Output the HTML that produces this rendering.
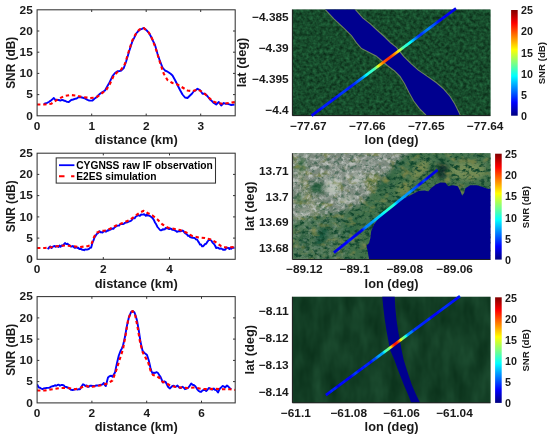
<!DOCTYPE html>
<html lang="en"><head><meta charset="utf-8"><title>CYGNSS raw IF observation vs E2ES simulation</title>
<style>html,body{margin:0;padding:0;background:#fff;}svg{display:block;}text{font-family:"Liberation Sans", "DejaVu Sans", sans-serif;font-weight:bold;fill:#1a1a1a;}.tk{font-size:11.2px;}.lb{font-size:11.9px;}.ck{font-size:10.1px;}.cl{font-size:9.9px;}.lg{font-size:10px;fill:#000;}</style></head><body>
<svg width="550" height="439" viewBox="0 0 550 439">
<defs>
<linearGradient id="jet" x1="0" y1="0" x2="0" y2="1"><stop offset="0.0000" stop-color="#800000"/><stop offset="0.0312" stop-color="#9f0000"/><stop offset="0.0625" stop-color="#bf0000"/><stop offset="0.0938" stop-color="#df0000"/><stop offset="0.1250" stop-color="#ff0000"/><stop offset="0.1562" stop-color="#ff2000"/><stop offset="0.1875" stop-color="#ff4000"/><stop offset="0.2188" stop-color="#ff6000"/><stop offset="0.2500" stop-color="#ff8000"/><stop offset="0.2812" stop-color="#ff9f00"/><stop offset="0.3125" stop-color="#ffbf00"/><stop offset="0.3438" stop-color="#ffdf00"/><stop offset="0.3750" stop-color="#ffff00"/><stop offset="0.4062" stop-color="#dfff20"/><stop offset="0.4375" stop-color="#bfff40"/><stop offset="0.4688" stop-color="#9fff60"/><stop offset="0.5000" stop-color="#80ff80"/><stop offset="0.5312" stop-color="#60ff9f"/><stop offset="0.5625" stop-color="#40ffbf"/><stop offset="0.5938" stop-color="#20ffdf"/><stop offset="0.6250" stop-color="#00ffff"/><stop offset="0.6562" stop-color="#00dfff"/><stop offset="0.6875" stop-color="#00bfff"/><stop offset="0.7188" stop-color="#009fff"/><stop offset="0.7500" stop-color="#0080ff"/><stop offset="0.7812" stop-color="#0060ff"/><stop offset="0.8125" stop-color="#0040ff"/><stop offset="0.8438" stop-color="#0020ff"/><stop offset="0.8750" stop-color="#0000ff"/><stop offset="0.9062" stop-color="#0000df"/><stop offset="0.9375" stop-color="#0000bf"/><stop offset="0.9688" stop-color="#00009f"/><stop offset="1.0000" stop-color="#000080"/></linearGradient>
<filter id="forest" x="0" y="0" width="100%" height="100%" color-interpolation-filters="sRGB"><feTurbulence type="fractalNoise" baseFrequency="0.3" numOctaves="2" seed="7" result="n"/><feColorMatrix in="n" type="matrix" values="0.14 0 0 0 0.02  0.36 0 0 0 0.115  0.22 0 0 0 0.06  0 0 0 0 1"/><feGaussianBlur stdDeviation="0.55"/></filter>
<filter id="forest3" x="0" y="0" width="100%" height="100%" color-interpolation-filters="sRGB"><feTurbulence type="fractalNoise" baseFrequency="0.07 0.03" numOctaves="3" seed="3" result="n"/><feColorMatrix in="n" type="matrix" values="0.1 0 0 0 0.025  0.15 0 0 0 0.17  0.12 0 0 0 0.085  0 0 0 0 1"/></filter>
<filter id="blur3" x="-5%" y="-5%" width="110%" height="110%"><feGaussianBlur stdDeviation="2.2"/></filter>
<filter id="noise2w" x="0" y="0" width="100%" height="100%" color-interpolation-filters="sRGB"><feTurbulence type="fractalNoise" baseFrequency="0.24" numOctaves="4" seed="11" result="n"/><feColorMatrix in="n" type="matrix" values="0 0 0 0 0.73  0 0 0 0 0.75  0 0 0 0 0.73  2.8 0 0 0 -1.22"/></filter>
<filter id="noise2o" x="0" y="0" width="100%" height="100%" color-interpolation-filters="sRGB"><feTurbulence type="fractalNoise" baseFrequency="0.09 0.14" numOctaves="3" seed="5" result="n"/><feColorMatrix in="n" type="matrix" values="0 0 0 0 0.48  0 0 0 0 0.52  0 0 0 0 0.28  0 0 3.2 0 -1.78"/></filter>
<filter id="noise2d" x="0" y="0" width="100%" height="100%" color-interpolation-filters="sRGB"><feTurbulence type="fractalNoise" baseFrequency="0.2 0.26" numOctaves="4" seed="23" result="n"/><feColorMatrix in="n" type="matrix" values="0 0 0 0 0.06  0 0 0 0 0.27  0 0 0 0 0.17  0 -4.0 0 0 2.1"/></filter>
</defs>
<rect width="550" height="439" fill="#fff"/>
<g>
<clipPath id="cp0"><rect x="37.1" y="9.8" width="198.1" height="106.0"/></clipPath>
<g clip-path="url(#cp0)" fill="none" stroke-linejoin="round">
<path d="M43.8 103.8 L45.4 103.3 L47.1 102.8 L48.8 102.0 L50.4 100.9 L52.1 99.6 L53.8 98.0 L55.0 99.5 L56.9 100.0 L58.8 100.0 L60.4 100.6 L62.1 99.9 L63.8 100.5 L65.4 101.0 L67.1 101.9 L68.8 102.0 L71.2 100.0 L73.1 99.5 L75.0 98.8 L76.7 98.5 L78.3 97.3 L80.0 97.0 L81.9 97.5 L83.8 98.0 L85.4 98.6 L87.1 99.7 L88.8 100.5 L90.6 100.6 L92.5 100.5 L94.4 98.7 L96.2 97.5 L98.1 95.4 L100.0 93.8 L102.5 92.0 L105.0 90.5 L106.9 87.0 L108.8 83.8 L110.6 80.2 L112.5 76.2 L115.0 73.0 L117.5 71.2 L119.4 71.1 L121.2 70.5 L123.8 68.0 L126.2 61.2 L128.8 52.5 L130.6 46.6 L132.5 41.0 L134.4 37.4 L136.2 33.5 L138.1 31.3 L140.0 29.5 L141.9 28.8 L143.8 28.0 L145.6 29.4 L147.5 31.2 L149.4 33.8 L151.2 37.0 L153.1 41.2 L155.0 45.0 L157.5 53.8 L160.0 61.2 L162.5 67.5 L165.0 70.5 L166.9 71.3 L168.8 72.5 L170.6 73.8 L172.5 75.5 L175.0 80.0 L177.5 85.0 L180.0 90.0 L182.5 94.5 L185.0 97.5 L187.5 98.0 L190.0 95.5 L191.9 93.7 L193.8 91.2 L195.6 90.3 L197.5 88.8 L200.0 90.0 L202.5 93.8 L205.0 93.8 L207.5 96.2 L210.0 99.5 L211.9 101.1 L213.8 103.0 L216.2 104.5 L218.8 102.0 L221.2 105.5 L223.8 103.0 L225.6 103.8 L227.5 103.8 L229.4 104.4 L231.2 105.0 L232.9 104.9 L234.5 104.5" stroke="#0000ff" stroke-width="1.9"/>
<path d="M37.0 104.5 L45.0 104.5 L51.2 103.8 L57.5 99.5 L63.8 96.2 L70.0 95.0 L76.2 95.5 L82.5 97.0 L90.0 98.0 L96.2 97.5 L101.2 93.8 L106.2 90.0 L110.0 83.8 L113.8 75.5 L117.5 72.0 L121.2 69.5 L125.0 63.8 L128.8 51.2 L132.5 40.0 L136.2 33.0 L139.5 29.5 L143.8 28.0 L148.8 32.5 L152.5 39.5 L156.2 50.0 L160.0 62.5 L163.8 73.8 L167.5 80.0 L172.5 83.0 L177.5 84.5 L182.5 87.5 L187.5 90.5 L192.5 91.2 L197.5 89.5 L202.5 92.0 L207.5 96.2 L212.5 101.2 L217.5 103.0 L222.5 103.8 L228.8 103.0 L235.5 102.0" stroke="#ff0000" stroke-width="2.1" stroke-dasharray="3.4 2.8"/>
</g>
<rect x="37.1" y="9.8" width="198.1" height="106.0" fill="none" stroke="#333333" stroke-width="1.05"/>
<path d="M37.1 94.6h2.2M235.2 94.6h-2.2M37.1 73.4h2.2M235.2 73.4h-2.2M37.1 52.2h2.2M235.2 52.2h-2.2M37.1 31.0h2.2M235.2 31.0h-2.2M91.7 115.8v-2.2M91.7 9.8v2.2M146.2 115.8v-2.2M146.2 9.8v2.2M200.7 115.8v-2.2M200.7 9.8v2.2" stroke="#333333" stroke-width="1" fill="none"/>
<text class="tk" x="32.8" y="119.5" text-anchor="end" textLength="6.6" lengthAdjust="spacingAndGlyphs">0</text>
<text class="tk" x="32.8" y="98.3" text-anchor="end" textLength="6.6" lengthAdjust="spacingAndGlyphs">5</text>
<text class="tk" x="32.8" y="77.1" text-anchor="end" textLength="13.2" lengthAdjust="spacingAndGlyphs">10</text>
<text class="tk" x="32.8" y="55.9" text-anchor="end" textLength="13.2" lengthAdjust="spacingAndGlyphs">15</text>
<text class="tk" x="32.8" y="34.7" text-anchor="end" textLength="13.2" lengthAdjust="spacingAndGlyphs">20</text>
<text class="tk" x="32.8" y="13.5" text-anchor="end" textLength="13.2" lengthAdjust="spacingAndGlyphs">25</text>
<text class="tk" x="37.1" y="129.8" text-anchor="middle" textLength="6.6" lengthAdjust="spacingAndGlyphs">0</text>
<text class="tk" x="91.7" y="129.8" text-anchor="middle" textLength="6.6" lengthAdjust="spacingAndGlyphs">1</text>
<text class="tk" x="146.2" y="129.8" text-anchor="middle" textLength="6.6" lengthAdjust="spacingAndGlyphs">2</text>
<text class="tk" x="200.7" y="129.8" text-anchor="middle" textLength="6.6" lengthAdjust="spacingAndGlyphs">3</text>
<text class="lb" x="136.2" y="144.2" text-anchor="middle" textLength="83" lengthAdjust="spacingAndGlyphs">distance (km)</text>
<text class="lb" transform="translate(15.2 62.8) rotate(-90)" text-anchor="middle" textLength="52" lengthAdjust="spacingAndGlyphs">SNR (dB)</text>
</g>
<g>
<clipPath id="cp1"><rect x="37.1" y="153.2" width="198.1" height="106.1"/></clipPath>
<g clip-path="url(#cp1)" fill="none" stroke-linejoin="round">
<path d="M47.5 248.0 L48.5 248.6 L49.5 246.9 L50.5 246.5 L51.5 248.1 L52.5 247.0 L53.5 246.3 L54.5 246.0 L55.5 246.8 L56.5 246.1 L57.5 246.2 L58.5 246.9 L59.5 245.5 L60.5 246.8 L61.5 245.5 L62.5 245.8 L63.8 244.5 L65.0 243.0 L66.2 244.1 L67.5 243.8 L68.8 244.9 L70.0 245.5 L70.9 246.6 L71.9 246.6 L72.8 245.9 L73.8 247.0 L74.7 247.9 L75.6 247.7 L76.6 247.4 L77.5 248.0 L78.4 247.7 L79.4 249.1 L80.3 248.9 L81.2 249.0 L82.2 249.9 L83.1 249.8 L84.1 250.2 L85.0 249.5 L85.9 249.5 L86.9 249.6 L87.8 249.3 L88.8 249.0 L90.0 247.9 L91.2 247.5 L92.5 242.5 L93.5 240.4 L94.5 237.5 L95.8 235.4 L97.0 233.8 L98.2 232.9 L99.5 231.2 L100.5 232.4 L101.5 232.3 L102.5 232.5 L103.8 231.3 L105.0 231.2 L105.9 231.7 L106.9 231.2 L107.8 230.1 L108.8 230.5 L109.7 229.3 L110.6 229.7 L111.6 228.4 L112.5 228.8 L113.4 228.8 L114.4 227.5 L115.3 226.9 L116.2 226.2 L117.2 225.7 L118.1 225.6 L119.1 225.6 L120.0 224.5 L120.9 224.0 L121.9 223.9 L122.8 224.1 L123.8 223.8 L125.0 222.8 L126.2 222.5 L127.2 222.4 L128.1 221.9 L129.1 221.4 L130.0 221.2 L130.9 220.8 L131.9 219.9 L132.8 218.5 L133.8 218.4 L134.7 218.4 L135.6 216.7 L136.6 216.1 L137.5 215.5 L138.4 215.1 L139.4 215.8 L140.3 215.5 L141.2 214.5 L142.2 214.6 L143.1 214.6 L144.1 214.1 L145.0 215.0 L145.9 215.9 L146.9 214.6 L147.8 215.5 L148.8 215.5 L149.7 215.9 L150.6 216.5 L151.6 217.2 L152.5 218.0 L153.8 219.9 L155.0 222.5 L156.2 224.3 L157.5 227.0 L158.8 228.5 L160.0 230.0 L160.9 230.4 L161.9 230.0 L162.8 229.1 L163.8 229.5 L164.7 229.4 L165.6 228.0 L166.6 228.2 L167.5 228.0 L168.4 228.8 L169.4 229.1 L170.3 228.5 L171.2 228.8 L172.2 229.7 L173.1 229.6 L174.1 230.1 L175.0 230.5 L175.9 230.8 L176.9 231.8 L177.8 231.5 L178.8 231.2 L179.7 231.0 L180.6 231.3 L181.6 230.9 L182.5 230.5 L183.4 231.1 L184.4 232.5 L185.3 233.4 L186.2 233.8 L187.2 234.7 L188.1 236.0 L189.1 235.5 L190.0 237.0 L190.9 237.3 L191.9 237.7 L192.8 237.5 L193.8 238.0 L194.8 238.0 L195.9 239.3 L197.0 239.5 L198.0 241.1 L199.0 242.6 L200.0 244.5 L201.0 244.4 L202.0 246.4 L203.0 246.2 L204.1 245.2 L205.2 244.0 L206.2 243.8 L207.5 241.6 L208.8 240.0 L210.0 239.8 L211.2 240.5 L212.5 242.6 L213.8 243.8 L215.0 245.5 L216.2 248.0 L217.2 247.8 L218.1 247.6 L219.1 248.5 L220.0 248.8 L220.9 248.4 L221.9 248.8 L222.8 249.7 L223.8 249.5 L224.7 249.8 L225.6 249.3 L226.6 247.6 L227.5 248.0 L228.4 248.0 L229.4 249.0 L230.3 247.7 L231.2 248.8 L232.3 247.8 L233.4 247.9 L234.5 247.5" stroke="#0000ff" stroke-width="1.9"/>
<path d="M37.0 248.0 L45.0 248.0 L52.5 247.0 L60.0 245.8 L65.0 245.5 L72.5 246.2 L80.0 247.0 L87.5 246.2 L91.2 245.0 L93.8 237.5 L96.2 233.0 L100.0 231.2 L105.0 230.5 L110.0 228.8 L116.2 225.5 L122.5 223.0 L128.8 220.5 L133.8 217.0 L140.0 212.5 L143.8 210.8 L147.5 213.0 L152.5 215.5 L157.5 219.5 L162.5 224.5 L167.5 227.5 L173.8 228.8 L180.0 230.0 L186.2 232.5 L192.5 236.2 L198.8 237.5 L205.0 238.0 L211.2 239.5 L216.2 242.5 L221.2 246.2 L226.2 247.5 L235.5 247.0" stroke="#ff0000" stroke-width="2.1" stroke-dasharray="3.4 2.8"/>
</g>
<rect x="37.1" y="153.2" width="198.1" height="106.1" fill="none" stroke="#333333" stroke-width="1.05"/>
<path d="M37.1 238.1h2.2M235.2 238.1h-2.2M37.1 216.9h2.2M235.2 216.9h-2.2M37.1 195.6h2.2M235.2 195.6h-2.2M37.1 174.4h2.2M235.2 174.4h-2.2M103.3 259.3v-2.2M103.3 153.2v2.2M169.5 259.3v-2.2M169.5 153.2v2.2" stroke="#333333" stroke-width="1" fill="none"/>
<text class="tk" x="32.8" y="263.0" text-anchor="end" textLength="6.6" lengthAdjust="spacingAndGlyphs">0</text>
<text class="tk" x="32.8" y="241.8" text-anchor="end" textLength="6.6" lengthAdjust="spacingAndGlyphs">5</text>
<text class="tk" x="32.8" y="220.6" text-anchor="end" textLength="13.2" lengthAdjust="spacingAndGlyphs">10</text>
<text class="tk" x="32.8" y="199.3" text-anchor="end" textLength="13.2" lengthAdjust="spacingAndGlyphs">15</text>
<text class="tk" x="32.8" y="178.1" text-anchor="end" textLength="13.2" lengthAdjust="spacingAndGlyphs">20</text>
<text class="tk" x="32.8" y="156.9" text-anchor="end" textLength="13.2" lengthAdjust="spacingAndGlyphs">25</text>
<text class="tk" x="37.1" y="273.3" text-anchor="middle" textLength="6.6" lengthAdjust="spacingAndGlyphs">0</text>
<text class="tk" x="103.3" y="273.3" text-anchor="middle" textLength="6.6" lengthAdjust="spacingAndGlyphs">2</text>
<text class="tk" x="169.5" y="273.3" text-anchor="middle" textLength="6.6" lengthAdjust="spacingAndGlyphs">4</text>
<text class="lb" x="136.2" y="287.7" text-anchor="middle" textLength="83" lengthAdjust="spacingAndGlyphs">distance (km)</text>
<text class="lb" transform="translate(15.2 206.2) rotate(-90)" text-anchor="middle" textLength="52" lengthAdjust="spacingAndGlyphs">SNR (dB)</text>
</g>
<g>
<clipPath id="cp2"><rect x="37.1" y="296.6" width="198.1" height="106.3"/></clipPath>
<g clip-path="url(#cp2)" fill="none" stroke-linejoin="round">
<path d="M37.0 384.2 L38.8 387.5 L40.0 387.7 L41.2 388.5 L42.5 389.2 L43.8 388.4 L45.0 388.3 L46.2 388.0 L47.5 387.9 L48.8 387.9 L50.0 387.5 L51.2 386.6 L52.5 386.3 L53.8 386.0 L55.0 385.2 L56.2 385.8 L57.5 385.0 L58.8 384.6 L60.0 385.7 L61.2 385.0 L62.5 385.0 L63.8 385.4 L65.0 386.8 L66.2 387.0 L67.5 387.5 L68.8 388.0 L70.0 389.0 L71.2 389.9 L72.5 390.0 L73.8 389.8 L75.0 389.2 L76.2 389.2 L77.5 389.6 L78.8 389.2 L80.0 389.2 L81.5 386.5 L83.0 384.2 L84.2 384.9 L85.5 386.0 L86.6 385.4 L87.7 386.8 L88.8 386.8 L90.0 385.8 L91.2 385.7 L92.5 386.0 L93.8 386.0 L95.0 385.9 L96.2 385.5 L97.5 385.5 L98.8 385.4 L100.0 385.0 L101.2 384.8 L102.5 384.3 L103.8 383.0 L104.8 385.0 L105.8 386.0 L106.9 381.7 L108.0 377.5 L109.0 376.6 L110.0 376.0 L111.2 375.8 L112.5 376.8 L113.8 374.6 L115.0 372.5 L116.0 367.6 L117.0 363.0 L118.8 355.5 L120.5 351.0 L121.8 348.6 L123.0 345.5 L124.0 341.3 L125.0 336.8 L126.0 331.0 L127.0 325.5 L128.0 321.2 L129.0 316.8 L130.1 314.4 L131.2 311.8 L132.8 311.0 L134.5 312.5 L135.8 316.2 L137.0 320.5 L138.8 330.5 L140.5 341.8 L141.5 346.3 L142.5 350.5 L143.5 352.0 L144.5 353.0 L145.8 354.0 L147.0 355.0 L148.8 360.5 L150.5 368.0 L151.5 371.1 L152.5 373.5 L153.8 372.6 L155.0 373.0 L156.5 372.2 L158.0 373.0 L159.2 375.1 L160.5 376.8 L161.8 379.8 L163.0 382.5 L164.2 381.3 L165.5 381.8 L166.8 384.3 L168.0 386.8 L169.0 387.7 L170.0 388.5 L171.2 387.1 L172.5 386.0 L173.8 385.8 L175.0 386.8 L176.2 386.6 L177.5 385.5 L178.8 387.2 L180.0 388.0 L181.2 387.5 L182.5 386.8 L183.8 387.7 L185.0 389.2 L186.5 388.7 L188.0 388.0 L189.1 386.7 L190.2 385.0 L191.2 383.5 L192.5 384.7 L193.8 385.0 L195.0 385.9 L196.2 387.5 L197.5 389.7 L198.8 391.0 L200.0 391.7 L201.2 391.8 L202.5 390.4 L203.8 390.0 L205.0 389.9 L206.2 391.0 L207.5 389.8 L208.8 388.0 L210.0 388.4 L211.2 389.2 L212.5 389.5 L213.8 388.5 L215.0 389.8 L216.2 390.0 L218.0 392.5 L219.0 390.3 L220.0 388.5 L221.2 387.5 L222.5 386.0 L223.8 386.4 L225.0 387.5 L226.0 386.5 L227.0 385.5 L228.2 386.4 L229.5 388.0 L231.2 389.2" stroke="#0000ff" stroke-width="1.9"/>
<path d="M37.0 390.5 L45.0 390.5 L52.5 389.2 L60.0 388.0 L67.5 388.0 L75.0 389.2 L80.0 388.0 L85.0 386.0 L92.5 386.8 L100.0 385.5 L107.5 383.5 L112.5 380.5 L116.2 370.5 L120.0 358.5 L123.0 349.2 L125.5 335.5 L128.0 320.5 L130.5 313.0 L132.5 311.0 L135.0 314.2 L137.5 326.8 L140.0 341.8 L142.5 351.8 L145.0 356.8 L148.0 361.8 L150.5 370.5 L153.0 375.0 L156.2 376.0 L159.5 378.0 L162.5 381.8 L166.2 383.0 L170.0 385.5 L175.0 386.8 L180.0 387.5 L187.5 388.0 L195.0 387.5 L201.2 388.8 L207.5 389.2 L215.0 388.8 L222.5 389.2 L230.0 389.2 L235.5 390.0" stroke="#ff0000" stroke-width="2.1" stroke-dasharray="3.4 2.8"/>
</g>
<rect x="37.1" y="296.6" width="198.1" height="106.3" fill="none" stroke="#333333" stroke-width="1.05"/>
<path d="M37.1 381.6h2.2M235.2 381.6h-2.2M37.1 360.4h2.2M235.2 360.4h-2.2M37.1 339.1h2.2M235.2 339.1h-2.2M37.1 317.9h2.2M235.2 317.9h-2.2M91.9 402.9v-2.2M91.9 296.6v2.2M146.7 402.9v-2.2M146.7 296.6v2.2M201.5 402.9v-2.2M201.5 296.6v2.2" stroke="#333333" stroke-width="1" fill="none"/>
<text class="tk" x="32.8" y="406.6" text-anchor="end" textLength="6.6" lengthAdjust="spacingAndGlyphs">0</text>
<text class="tk" x="32.8" y="385.3" text-anchor="end" textLength="6.6" lengthAdjust="spacingAndGlyphs">5</text>
<text class="tk" x="32.8" y="364.1" text-anchor="end" textLength="13.2" lengthAdjust="spacingAndGlyphs">10</text>
<text class="tk" x="32.8" y="342.8" text-anchor="end" textLength="13.2" lengthAdjust="spacingAndGlyphs">15</text>
<text class="tk" x="32.8" y="321.6" text-anchor="end" textLength="13.2" lengthAdjust="spacingAndGlyphs">20</text>
<text class="tk" x="32.8" y="300.3" text-anchor="end" textLength="13.2" lengthAdjust="spacingAndGlyphs">25</text>
<text class="tk" x="37.1" y="416.9" text-anchor="middle" textLength="6.6" lengthAdjust="spacingAndGlyphs">0</text>
<text class="tk" x="91.9" y="416.9" text-anchor="middle" textLength="6.6" lengthAdjust="spacingAndGlyphs">2</text>
<text class="tk" x="146.7" y="416.9" text-anchor="middle" textLength="6.6" lengthAdjust="spacingAndGlyphs">4</text>
<text class="tk" x="201.5" y="416.9" text-anchor="middle" textLength="6.6" lengthAdjust="spacingAndGlyphs">6</text>
<text class="lb" x="136.2" y="431.3" text-anchor="middle" textLength="83" lengthAdjust="spacingAndGlyphs">distance (km)</text>
<text class="lb" transform="translate(15.2 349.8) rotate(-90)" text-anchor="middle" textLength="52" lengthAdjust="spacingAndGlyphs">SNR (dB)</text>
</g>
<g>
<rect x="56.2" y="157.9" width="159.3" height="25.2" fill="#fff" stroke="#333333" stroke-width="1.05"/>
<path d="M59 165.2H74.4" stroke="#0000ff" stroke-width="1.8"/>
<path d="M59 176.3H64.5M71.1 176.3H74.4" stroke="#ff0000" stroke-width="2"/>
<text class="lg" x="76.2" y="168.9" textLength="136.6" lengthAdjust="spacingAndGlyphs">CYGNSS raw IF observation</text>
<text class="lg" x="76.2" y="180.4" textLength="80.3" lengthAdjust="spacingAndGlyphs">E2ES simulation</text>
</g>
<g>
<clipPath id="cm0"><rect x="292.4" y="9.5" width="198.1" height="106.1"/></clipPath>
<g clip-path="url(#cm0)">
<rect x="292.4" y="9.5" width="198.1" height="106.1" fill="#14522f"/>
<rect x="292.4" y="9.5" width="198.1" height="106.1" filter="url(#forest)"/>
<path d="M324.2 8.5 L333.9 18.8 L344.1 28.3 L351.4 35.5 L356.5 42.8 L361.5 48.6 L368.8 52.3 L376.1 55.9 L381.5 60.5 L387.3 65.5 L394.6 71.0 L400.0 76.4 L404.6 83.7 L409.1 92.8 L413.7 101.0 L419.2 108.3 L425.5 114.7 L427.0 117.0 L461.3 117.0 L460.1 114.7 L458.3 111.0 L454.7 103.8 L450.1 96.5 L443.8 89.2 L436.5 82.8 L427.4 76.4 L418.3 70.1 L411.0 63.7 L403.7 56.4 L396.4 47.3 L390.6 42.8 L384.8 37.0 L377.5 30.5 L370.3 23.9 L363.0 18.1 L354.4 8.5Z" fill="#00008f" stroke="#8a9c66" stroke-opacity="0.75" stroke-width="1.1"/>
</g>
<path d="M292.4 9.5V115.6H490.5" stroke="#1a1a1a" stroke-width="1" fill="none"/>
<linearGradient id="tg0" gradientUnits="userSpaceOnUse" x1="311.6" y1="115.6" x2="456.0" y2="8.3"><stop offset="0.033" stop-color="#0000f3"/><stop offset="0.059" stop-color="#0005ff"/><stop offset="0.084" stop-color="#002cff"/><stop offset="0.090" stop-color="#001dff"/><stop offset="0.109" stop-color="#0019ff"/><stop offset="0.134" stop-color="#0014ff"/><stop offset="0.159" stop-color="#0005ff"/><stop offset="0.172" stop-color="#0019ff"/><stop offset="0.191" stop-color="#0025ff"/><stop offset="0.216" stop-color="#0035ff"/><stop offset="0.235" stop-color="#002cff"/><stop offset="0.260" stop-color="#0014ff"/><stop offset="0.279" stop-color="#0014ff"/><stop offset="0.298" stop-color="#0031ff"/><stop offset="0.317" stop-color="#0055ff"/><stop offset="0.329" stop-color="#0066ff"/><stop offset="0.342" stop-color="#0074ff"/><stop offset="0.361" stop-color="#00b5ff"/><stop offset="0.379" stop-color="#00fdff"/><stop offset="0.392" stop-color="#1dffe2"/><stop offset="0.405" stop-color="#2effd1"/><stop offset="0.424" stop-color="#35ffca"/><stop offset="0.436" stop-color="#4dffb2"/><stop offset="0.449" stop-color="#8eff71"/><stop offset="0.461" stop-color="#e3ff1c"/><stop offset="0.480" stop-color="#ffad00"/><stop offset="0.499" stop-color="#ff6500"/><stop offset="0.518" stop-color="#ff3e00"/><stop offset="0.537" stop-color="#ff3000"/><stop offset="0.556" stop-color="#ff4f00"/><stop offset="0.574" stop-color="#ff8600"/><stop offset="0.593" stop-color="#ffd300"/><stop offset="0.606" stop-color="#d7ff28"/><stop offset="0.619" stop-color="#8eff71"/><stop offset="0.631" stop-color="#52ffad"/><stop offset="0.644" stop-color="#35ffca"/><stop offset="0.663" stop-color="#22ffdd"/><stop offset="0.681" stop-color="#05fffa"/><stop offset="0.694" stop-color="#00d9ff"/><stop offset="0.707" stop-color="#00a9ff"/><stop offset="0.719" stop-color="#0079ff"/><stop offset="0.732" stop-color="#004dff"/><stop offset="0.744" stop-color="#0031ff"/><stop offset="0.757" stop-color="#002cff"/><stop offset="0.770" stop-color="#0044ff"/><stop offset="0.788" stop-color="#006dff"/><stop offset="0.807" stop-color="#0085ff"/><stop offset="0.820" stop-color="#0079ff"/><stop offset="0.832" stop-color="#0055ff"/><stop offset="0.845" stop-color="#0055ff"/><stop offset="0.858" stop-color="#003dff"/><stop offset="0.870" stop-color="#001dff"/><stop offset="0.889" stop-color="#0000fb"/><stop offset="0.902" stop-color="#0000ec"/><stop offset="0.914" stop-color="#0005ff"/><stop offset="0.927" stop-color="#0000e3"/><stop offset="0.939" stop-color="#0000fb"/><stop offset="0.958" stop-color="#0000f3"/><stop offset="0.977" stop-color="#0000e7"/><stop offset="0.993" stop-color="#0000ec"/></linearGradient>
<path d="M311.6 115.6L456.0 8.3" stroke="url(#tg0)" stroke-width="2.7" fill="none"/>
</g>
<g>
<clipPath id="cm1"><rect x="292.4" y="153.2" width="198.1" height="106.3"/></clipPath>
<g clip-path="url(#cm1)">
<rect x="292.4" y="153.2" width="198.1" height="106.3" fill="#43704c"/>
<g filter="url(#blur3)">
<path d="M285 148H418L400 158L380 180L362 204L340 212L318 214L285 222Z" fill="#7b897e"/>
<path d="M285 222L318 214L340 212L345 262H285Z" fill="#4c7552"/>
<path d="M418 148L400 158L380 180L362 204L345 230L350 262H380L420 200L495 190V148Z" fill="#41704a"/>
<ellipse cx="352" cy="170" rx="30" ry="14" fill="#838f85" transform="rotate(-25 352 170)"/>
<ellipse cx="372" cy="180" rx="9" ry="6" fill="#78884d" transform="rotate(-40 372 180)"/>
<ellipse cx="420" cy="170" rx="12" ry="5" fill="#748a4f" transform="rotate(-50 420 170)"/>
<ellipse cx="468" cy="171" rx="18" ry="9" fill="#728c55"/>
<ellipse cx="404" cy="188" rx="9" ry="4" fill="#6f884c" transform="rotate(-35 404 188)"/>
<ellipse cx="317" cy="188" rx="9" ry="7" fill="#2a6040"/>
<ellipse cx="322" cy="236" rx="6" ry="13" fill="#1f5a3f" transform="rotate(25 322 236)"/>
<ellipse cx="304" cy="240" rx="5" ry="8" fill="#2d6242"/>
<ellipse cx="350" cy="228" rx="6" ry="12" fill="#2f6644" transform="rotate(30 350 228)"/>
<ellipse cx="385" cy="182" rx="10" ry="5" fill="#2a6040" transform="rotate(-45 385 182)"/>
<ellipse cx="442" cy="171" rx="6.5" ry="8.5" fill="#0a2a26"/>
<ellipse cx="398" cy="166" rx="8" ry="4" fill="#33664a" transform="rotate(-30 398 166)"/>
<ellipse cx="301" cy="166" rx="6" ry="9" fill="#4f7a55"/>
<ellipse cx="300" cy="200" rx="5" ry="8" fill="#527a55"/>
<ellipse cx="322" cy="206" rx="7" ry="4" fill="#5a7f5a"/>
<ellipse cx="333" cy="186" rx="8" ry="9" fill="#b9c2b6"/>
<ellipse cx="357" cy="180" rx="6" ry="5" fill="#aab5a7"/>
<ellipse cx="345" cy="200" rx="8" ry="4" fill="#a5b0a1" transform="rotate(-25 345 200)"/>
<ellipse cx="303" cy="214" rx="7" ry="3" fill="#a9b2a0" transform="rotate(-20 303 214)"/>
<path d="M296 172L301 170L318 212L313 214Z" fill="#8f9a78"/>
</g>
<mask id="urb" maskUnits="userSpaceOnUse" x="285" y="145" width="215" height="120"><rect x="285" y="145" width="215" height="120" fill="#181818"/><g filter="url(#blur3)"><path d="M285 226L318 216L345 214L350 265H285Z" fill="#4a4a4a"/><path d="M285 145H416L399 158L380 180L362 203L340 211L318 215L285 223Z" fill="#fff"/><ellipse cx="317" cy="188" rx="9" ry="7" fill="#333"/><ellipse cx="301" cy="166" rx="6" ry="9" fill="#555"/><ellipse cx="300" cy="200" rx="5" ry="8" fill="#555"/><ellipse cx="322" cy="236" rx="6" ry="13" fill="#222" transform="rotate(25 322 236)"/></g></mask>
<mask id="hil" maskUnits="userSpaceOnUse" x="285" y="145" width="215" height="120"><rect x="285" y="145" width="215" height="120" fill="#fff"/><g filter="url(#blur3)"><path d="M285 145H416L399 158L380 180L362 203L340 211L318 215L285 223Z" fill="#707070"/></g></mask>
<g mask="url(#hil)"><rect x="292.4" y="153.2" width="198.1" height="106.3" filter="url(#noise2d)"/></g>
<rect x="292.4" y="153.2" width="198.1" height="106.3" filter="url(#noise2o)"/>
<g mask="url(#urb)"><rect x="292.4" y="153.2" width="198.1" height="106.3" filter="url(#noise2w)"/></g>
<path d="M390.0 207.3 L397.6 201.5 L405.3 197.7 L411.0 194.9 L418.6 191.0 L424.4 190.5 L428.2 191.6 L431.0 188.2 L435.8 184.4 L440.6 182.5 L445.4 182.8 L448.2 186.3 L453.0 185.3 L457.8 186.3 L460.3 191.0 L462.2 195.8 L464.1 193.0 L465.4 188.2 L470.2 185.3 L476.9 185.3 L483.5 187.2 L488.3 189.1 L492.0 188.0 L492.0 262.0 L369.5 262.0 L367.8 252.0 L366.5 245.7 L369.1 243.1 L370.4 238.0 L371.1 231.6 L374.2 224.0 L379.3 217.6 L385.7 211.2Z" fill="#00008f"/>
</g>
<linearGradient id="tg1" gradientUnits="userSpaceOnUse" x1="333.9" y1="252.6" x2="437.6" y2="170.0"><stop offset="0.052" stop-color="#0000ec"/><stop offset="0.078" stop-color="#0000f6"/><stop offset="0.103" stop-color="#0000fd"/><stop offset="0.128" stop-color="#0003ff"/><stop offset="0.140" stop-color="#001dff"/><stop offset="0.153" stop-color="#0016ff"/><stop offset="0.166" stop-color="#0005ff"/><stop offset="0.184" stop-color="#0000f6"/><stop offset="0.203" stop-color="#0000ec"/><stop offset="0.222" stop-color="#0000e3"/><stop offset="0.241" stop-color="#0000de"/><stop offset="0.260" stop-color="#0000e3"/><stop offset="0.273" stop-color="#0000f1"/><stop offset="0.279" stop-color="#0022ff"/><stop offset="0.289" stop-color="#0052ff"/><stop offset="0.301" stop-color="#0076ff"/><stop offset="0.314" stop-color="#008eff"/><stop offset="0.329" stop-color="#0082ff"/><stop offset="0.342" stop-color="#008eff"/><stop offset="0.361" stop-color="#0095ff"/><stop offset="0.379" stop-color="#00a6ff"/><stop offset="0.398" stop-color="#00beff"/><stop offset="0.417" stop-color="#00cfff"/><stop offset="0.436" stop-color="#00d6ff"/><stop offset="0.449" stop-color="#00e2ff"/><stop offset="0.468" stop-color="#00eeff"/><stop offset="0.486" stop-color="#0bfff4"/><stop offset="0.505" stop-color="#27ffd8"/><stop offset="0.524" stop-color="#30ffcf"/><stop offset="0.543" stop-color="#2bffd4"/><stop offset="0.562" stop-color="#27ffd8"/><stop offset="0.581" stop-color="#0ffff0"/><stop offset="0.593" stop-color="#00e2ff"/><stop offset="0.606" stop-color="#00b7ff"/><stop offset="0.619" stop-color="#009aff"/><stop offset="0.637" stop-color="#009fff"/><stop offset="0.656" stop-color="#00adff"/><stop offset="0.675" stop-color="#00a6ff"/><stop offset="0.694" stop-color="#0095ff"/><stop offset="0.713" stop-color="#008eff"/><stop offset="0.732" stop-color="#0095ff"/><stop offset="0.751" stop-color="#0076ff"/><stop offset="0.770" stop-color="#0057ff"/><stop offset="0.788" stop-color="#004dff"/><stop offset="0.805" stop-color="#003fff"/><stop offset="0.820" stop-color="#000fff"/><stop offset="0.835" stop-color="#0000fd"/><stop offset="0.851" stop-color="#0016ff"/><stop offset="0.864" stop-color="#003aff"/><stop offset="0.876" stop-color="#0035ff"/><stop offset="0.889" stop-color="#0016ff"/><stop offset="0.902" stop-color="#0000ec"/><stop offset="0.920" stop-color="#0000e5"/><stop offset="0.939" stop-color="#0000de"/><stop offset="0.958" stop-color="#0000ec"/><stop offset="0.977" stop-color="#0000e5"/><stop offset="0.993" stop-color="#0000f1"/></linearGradient>
<path d="M333.9 252.6L437.6 170.0" stroke="url(#tg1)" stroke-width="2.8" fill="none"/>
<path d="M292.4 153.2V259.5H490.5" stroke="#222" stroke-width="1" fill="none"/>
</g>
<g>
<clipPath id="cm2"><rect x="292.4" y="296.8" width="198.1" height="106.0"/></clipPath>
<g clip-path="url(#cm2)">
<rect x="292.4" y="296.8" width="198.1" height="106.0" fill="#1c4a2e"/>
<rect x="292.4" y="296.8" width="198.1" height="106.0" filter="url(#forest3)"/>
<path d="M382.1 295.0 L383.3 307.5 L384.7 319.1 L386.5 330.7 L388.4 340.9 L389.8 349.4 L394.2 359.5 L398.5 371.2 L403.6 384.3 L408.0 394.5 L411.3 403.0 L420.2 403.0 L416.0 394.5 L411.6 384.3 L407.3 371.2 L403.6 359.5 L401.5 349.4 L400.0 340.9 L398.1 330.7 L396.4 319.1 L395.3 307.5 L394.6 295.0Z" fill="#00008f"/>
</g>
<path d="M292.4 296.8V402.8H490.5" stroke="#1a1a1a" stroke-width="1" fill="none"/>
<linearGradient id="tg2" gradientUnits="userSpaceOnUse" x1="460.0" y1="296.2" x2="325.9" y2="395.1"><stop offset="0.000" stop-color="#0033ff"/><stop offset="0.008" stop-color="#0014ff"/><stop offset="0.027" stop-color="#0003ff"/><stop offset="0.046" stop-color="#000fff"/><stop offset="0.065" stop-color="#0014ff"/><stop offset="0.084" stop-color="#0023ff"/><stop offset="0.103" stop-color="#002cff"/><stop offset="0.122" stop-color="#002cff"/><stop offset="0.140" stop-color="#001bff"/><stop offset="0.159" stop-color="#000fff"/><stop offset="0.178" stop-color="#0000fb"/><stop offset="0.197" stop-color="#0003ff"/><stop offset="0.216" stop-color="#0003ff"/><stop offset="0.231" stop-color="#0033ff"/><stop offset="0.244" stop-color="#0023ff"/><stop offset="0.260" stop-color="#001bff"/><stop offset="0.279" stop-color="#0023ff"/><stop offset="0.298" stop-color="#0027ff"/><stop offset="0.317" stop-color="#002cff"/><stop offset="0.335" stop-color="#003fff"/><stop offset="0.345" stop-color="#0023ff"/><stop offset="0.357" stop-color="#0074ff"/><stop offset="0.367" stop-color="#0083ff"/><stop offset="0.379" stop-color="#007bff"/><stop offset="0.392" stop-color="#00a4ff"/><stop offset="0.402" stop-color="#00ffff"/><stop offset="0.411" stop-color="#48ffb7"/><stop offset="0.420" stop-color="#74ff8b"/><stop offset="0.432" stop-color="#a8ff57"/><stop offset="0.442" stop-color="#fcff03"/><stop offset="0.452" stop-color="#ff9600"/><stop offset="0.463" stop-color="#ff4200"/><stop offset="0.474" stop-color="#ff1200"/><stop offset="0.481" stop-color="#ff0b00"/><stop offset="0.490" stop-color="#ff1900"/><stop offset="0.503" stop-color="#ff6600"/><stop offset="0.512" stop-color="#ffc600"/><stop offset="0.520" stop-color="#ccff33"/><stop offset="0.530" stop-color="#78ff87"/><stop offset="0.541" stop-color="#60ff9f"/><stop offset="0.553" stop-color="#4dffb2"/><stop offset="0.562" stop-color="#18ffe7"/><stop offset="0.571" stop-color="#00cfff"/><stop offset="0.581" stop-color="#009bff"/><stop offset="0.593" stop-color="#009fff"/><stop offset="0.608" stop-color="#009fff"/><stop offset="0.621" stop-color="#007bff"/><stop offset="0.634" stop-color="#0044ff"/><stop offset="0.646" stop-color="#004bff"/><stop offset="0.659" stop-color="#001bff"/><stop offset="0.669" stop-color="#000bff"/><stop offset="0.681" stop-color="#0023ff"/><stop offset="0.694" stop-color="#001bff"/><stop offset="0.707" stop-color="#0027ff"/><stop offset="0.719" stop-color="#000fff"/><stop offset="0.732" stop-color="#001bff"/><stop offset="0.744" stop-color="#0003ff"/><stop offset="0.759" stop-color="#000fff"/><stop offset="0.776" stop-color="#003bff"/><stop offset="0.788" stop-color="#002cff"/><stop offset="0.801" stop-color="#0014ff"/><stop offset="0.814" stop-color="#0000f2"/><stop offset="0.826" stop-color="#0000ea"/><stop offset="0.839" stop-color="#0000fb"/><stop offset="0.851" stop-color="#0000f2"/><stop offset="0.864" stop-color="#000fff"/><stop offset="0.876" stop-color="#0003ff"/><stop offset="0.889" stop-color="#000bff"/><stop offset="0.902" stop-color="#0000fb"/><stop offset="0.910" stop-color="#0000e3"/><stop offset="0.920" stop-color="#000bff"/><stop offset="0.933" stop-color="#0023ff"/><stop offset="0.946" stop-color="#0014ff"/><stop offset="0.956" stop-color="#0027ff"/><stop offset="0.968" stop-color="#000fff"/><stop offset="0.977" stop-color="#0003ff"/></linearGradient>
<path d="M325.9 395.1L460.0 296.2" stroke="url(#tg2)" stroke-width="2.7" fill="none"/>
</g>
<text class="tk" x="288.7" y="21.3" text-anchor="end" textLength="36.6" lengthAdjust="spacingAndGlyphs">−4.385</text>
<text class="tk" x="288.7" y="52.2" text-anchor="end" textLength="30.0" lengthAdjust="spacingAndGlyphs">−4.39</text>
<text class="tk" x="288.7" y="83.2" text-anchor="end" textLength="36.6" lengthAdjust="spacingAndGlyphs">−4.395</text>
<text class="tk" x="288.7" y="114.2" text-anchor="end" textLength="23.4" lengthAdjust="spacingAndGlyphs">−4.4</text>
<text class="tk" x="308.4" y="130.0" text-anchor="middle" textLength="36.6" lengthAdjust="spacingAndGlyphs">−77.67</text>
<text class="tk" x="367.3" y="130.0" text-anchor="middle" textLength="36.6" lengthAdjust="spacingAndGlyphs">−77.66</text>
<text class="tk" x="426.2" y="130.0" text-anchor="middle" textLength="36.6" lengthAdjust="spacingAndGlyphs">−77.65</text>
<text class="tk" x="485.1" y="130.0" text-anchor="middle" textLength="36.6" lengthAdjust="spacingAndGlyphs">−77.64</text>
<text class="lb" x="391.6" y="143.7" text-anchor="middle" textLength="54" lengthAdjust="spacingAndGlyphs">lon (deg)</text>
<text class="lb" transform="translate(246.3 62.5) rotate(-90)" text-anchor="middle" textLength="49.6" lengthAdjust="spacingAndGlyphs">lat (deg)</text>
<text class="tk" x="288.7" y="174.9" text-anchor="end" textLength="29.7" lengthAdjust="spacingAndGlyphs">13.71</text>
<text class="tk" x="288.7" y="200.6" text-anchor="end" textLength="23.1" lengthAdjust="spacingAndGlyphs">13.7</text>
<text class="tk" x="288.7" y="226.4" text-anchor="end" textLength="29.7" lengthAdjust="spacingAndGlyphs">13.69</text>
<text class="tk" x="288.7" y="252.1" text-anchor="end" textLength="29.7" lengthAdjust="spacingAndGlyphs">13.68</text>
<text class="tk" x="304.3" y="272.8" text-anchor="middle" textLength="36.6" lengthAdjust="spacingAndGlyphs">−89.12</text>
<text class="tk" x="354.5" y="272.8" text-anchor="middle" textLength="30.0" lengthAdjust="spacingAndGlyphs">−89.1</text>
<text class="tk" x="404.7" y="272.8" text-anchor="middle" textLength="36.6" lengthAdjust="spacingAndGlyphs">−89.08</text>
<text class="tk" x="454.6" y="272.8" text-anchor="middle" textLength="36.6" lengthAdjust="spacingAndGlyphs">−89.06</text>
<text class="lb" x="391.6" y="287.5" text-anchor="middle" textLength="54" lengthAdjust="spacingAndGlyphs">lon (deg)</text>
<text class="lb" transform="translate(253.8 206.3) rotate(-90)" text-anchor="middle" textLength="49.6" lengthAdjust="spacingAndGlyphs">lat (deg)</text>
<text class="tk" x="288.7" y="314.8" text-anchor="end" textLength="30.0" lengthAdjust="spacingAndGlyphs">−8.11</text>
<text class="tk" x="288.7" y="341.7" text-anchor="end" textLength="30.0" lengthAdjust="spacingAndGlyphs">−8.12</text>
<text class="tk" x="288.7" y="368.6" text-anchor="end" textLength="30.0" lengthAdjust="spacingAndGlyphs">−8.13</text>
<text class="tk" x="288.7" y="395.5" text-anchor="end" textLength="30.0" lengthAdjust="spacingAndGlyphs">−8.14</text>
<text class="tk" x="295.8" y="416.5" text-anchor="middle" textLength="30.0" lengthAdjust="spacingAndGlyphs">−61.1</text>
<text class="tk" x="348.7" y="416.5" text-anchor="middle" textLength="36.6" lengthAdjust="spacingAndGlyphs">−61.08</text>
<text class="tk" x="401.6" y="416.5" text-anchor="middle" textLength="36.6" lengthAdjust="spacingAndGlyphs">−61.06</text>
<text class="tk" x="454.5" y="416.5" text-anchor="middle" textLength="36.6" lengthAdjust="spacingAndGlyphs">−61.04</text>
<text class="lb" x="391.6" y="430.6" text-anchor="middle" textLength="54" lengthAdjust="spacingAndGlyphs">lon (deg)</text>
<text class="lb" transform="translate(253.8 349.8) rotate(-90)" text-anchor="middle" textLength="49.6" lengthAdjust="spacingAndGlyphs">lat (deg)</text>
<rect x="511.1" y="10.0" width="6.6" height="105.7" fill="url(#jet)"/>
<text class="ck" x="521.1" y="120.0" textLength="6.0" lengthAdjust="spacingAndGlyphs">0</text>
<text class="ck" x="521.1" y="98.9" textLength="6.0" lengthAdjust="spacingAndGlyphs">5</text>
<text class="ck" x="521.1" y="77.7" textLength="11.9" lengthAdjust="spacingAndGlyphs">10</text>
<text class="ck" x="521.1" y="56.6" textLength="11.9" lengthAdjust="spacingAndGlyphs">15</text>
<text class="ck" x="521.1" y="35.4" textLength="11.9" lengthAdjust="spacingAndGlyphs">20</text>
<text class="ck" x="521.1" y="14.3" textLength="11.9" lengthAdjust="spacingAndGlyphs">25</text>
<text class="cl" transform="translate(545.2 63.2) rotate(-90)" text-anchor="middle" textLength="42.2" lengthAdjust="spacingAndGlyphs">SNR (dB)</text>
<rect x="495.1" y="153.7" width="6.6" height="105.9" fill="url(#jet)"/>
<text class="ck" x="505.1" y="263.9" textLength="6.0" lengthAdjust="spacingAndGlyphs">0</text>
<text class="ck" x="505.1" y="242.7" textLength="6.0" lengthAdjust="spacingAndGlyphs">5</text>
<text class="ck" x="505.1" y="221.5" textLength="11.9" lengthAdjust="spacingAndGlyphs">10</text>
<text class="ck" x="505.1" y="200.4" textLength="11.9" lengthAdjust="spacingAndGlyphs">15</text>
<text class="ck" x="505.1" y="179.2" textLength="11.9" lengthAdjust="spacingAndGlyphs">20</text>
<text class="ck" x="505.1" y="158.0" textLength="11.9" lengthAdjust="spacingAndGlyphs">25</text>
<text class="cl" transform="translate(529.2 207.1) rotate(-90)" text-anchor="middle" textLength="42.2" lengthAdjust="spacingAndGlyphs">SNR (dB)</text>
<rect x="495.1" y="297.3" width="6.6" height="105.6" fill="url(#jet)"/>
<text class="ck" x="505.1" y="407.2" textLength="6.0" lengthAdjust="spacingAndGlyphs">0</text>
<text class="ck" x="505.1" y="386.1" textLength="6.0" lengthAdjust="spacingAndGlyphs">5</text>
<text class="ck" x="505.1" y="365.0" textLength="11.9" lengthAdjust="spacingAndGlyphs">10</text>
<text class="ck" x="505.1" y="343.8" textLength="11.9" lengthAdjust="spacingAndGlyphs">15</text>
<text class="ck" x="505.1" y="322.7" textLength="11.9" lengthAdjust="spacingAndGlyphs">20</text>
<text class="ck" x="505.1" y="301.6" textLength="11.9" lengthAdjust="spacingAndGlyphs">25</text>
<text class="cl" transform="translate(529.2 350.5) rotate(-90)" text-anchor="middle" textLength="42.2" lengthAdjust="spacingAndGlyphs">SNR (dB)</text>
</svg></body></html>
